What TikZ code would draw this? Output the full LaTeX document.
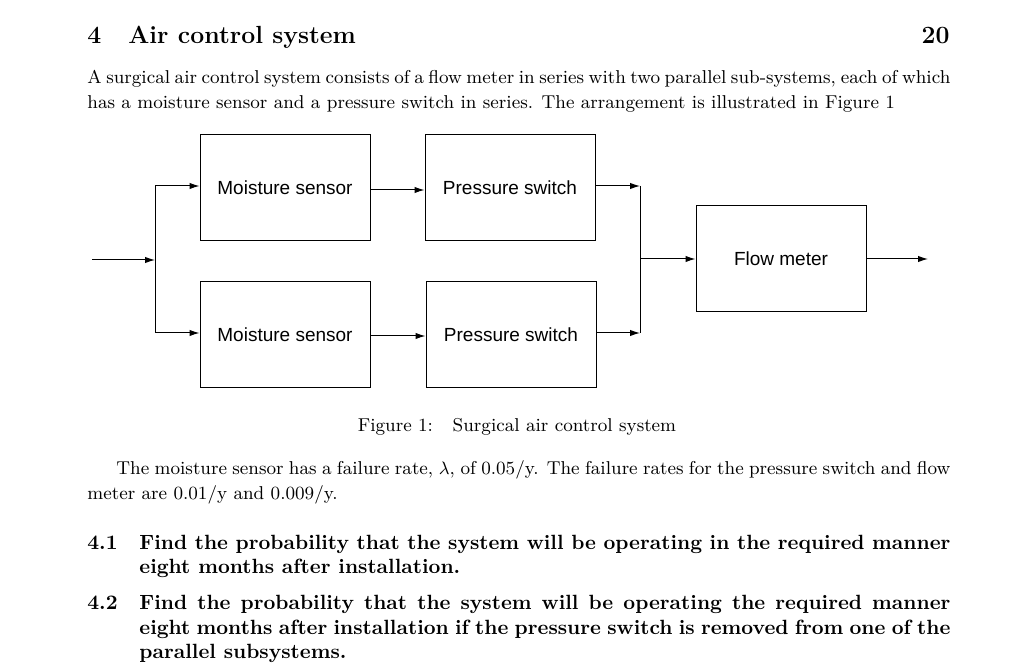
\documentclass[tikz,border=0pt]{standalone}
\usepackage{fontspec}
\newfontfamily\sans{Liberation Sans}
\usetikzlibrary{arrows.meta}
\newcommand\jl[2]{\hbox to #1{#2}}
\begin{document}
\begin{tikzpicture}[x=0.5pt,y=-0.5pt,
  box/.style={draw,line width=0.5pt,minimum width=85pt,minimum height=53pt,font=\sans\fontsize{9.5}{11}\selectfont,inner sep=0pt},
  t/.style={anchor=base west,inner sep=0pt},
  ar/.style={-{Latex[length=5pt,width=3.2pt]},line width=0.5pt},
  ln/.style={line width=0.5pt},
  body/.style={font=\fontsize{9.3}{12}\selectfont},
  bq/.style={font=\bfseries\fontsize{10.3}{12}\selectfont}]
\useasboundingbox (0,0) rectangle (1024,672);
% heading
\node[t,font=\bfseries\fontsize{12.4}{14}\selectfont] (h1) at (87,44) {4};
\node[t,font=\bfseries\fontsize{12.4}{14}\selectfont] (h2) at (128,44) {Air control system};
\node[anchor=base east,inner sep=0pt,font=\bfseries\fontsize{12.4}{14}\selectfont] (h3) at (950,44) {20};
% intro
\node[t,body] (p1) at (87,84) {\jl{431.5pt}{A surgical air control system consists of a flow meter in series with two parallel sub-systems, each of which}};
\node[t,body] (p2) at (87,109) {has a moisture sensor and a pressure switch in series. The arrangement is illustrated in Figure 1};
% diagram
\node[box] (ms1) at (285,187.5) {Moisture sensor};
\node[box] (ps1) at (510,187.5) {Pressure switch};
\node[box] (ms2) at (285,334.5) {Moisture sensor};
\node[box] (ps2) at (511,335) {Pressure switch};
\node[box] (fm) at (781,259) {Flow meter};
\coordinate (in) at (92,260);
\coordinate (s) at (155,260);
\coordinate (s1) at (155,186);
\coordinate (s2) at (155,333);
\coordinate (j1) at (640,186);
\coordinate (j2) at (640,333);
\coordinate (j) at (640,259);
\coordinate (out) at (928,259);
\draw[ar] (in) -- (s);
\draw[ln] (s1) -- (s2);
\draw[ar] (s1) -- (ms1.west |- s1);
\draw[ar] (s2) -- (ms2.west |- s2);
\draw[ar] (ms1.east |- 0,190) -- (ps1.west |- 0,190);
\draw[ar] (ms2.east |- 0,336) -- (ps2.west |- 0,336);
\draw[ar] (ps1.east |- j1) -- (j1);
\draw[ar] (ps2.east |- j2) -- (j2);
\draw[ln] (j1) -- (j2);
\draw[ar] (j) -- (fm.west);
\draw[ar] (fm.east) -- (out);
\node[anchor=base,inner sep=0pt,body] (cap) at (517,432) {Figure 1:\hspace{0.6em} Surgical air control system};
% paragraph
\node[t,body] (q1) at (116,475) {\jl{417pt}{The moisture sensor has a failure rate, $\lambda$, of 0.05/y. The failure rates for the pressure switch and flow}};
\node[t,body] (q2) at (87,500) {meter are 0.01/y and 0.009/y.};
% questions
\node[t,bq] (n1) at (87,550) {4.1};
\node[t,bq] (a1) at (139,550) {\jl{405.5pt}{Find the probability that the system will be operating in the required manner}};
\node[t,bq] (a2) at (139,574) {eight months after installation.};
\node[t,bq] (n2) at (87,610) {4.2};
\node[t,bq] (b1) at (139,610) {\jl{405.5pt}{Find the probability that the system will be operating the required manner}};
\node[t,bq] (b2) at (139,635) {\jl{405.5pt}{eight months after installation if the pressure switch is removed from one of the}};
\node[t,bq] (b3) at (139,659) {parallel subsystems.};
\end{tikzpicture}
\end{document}
